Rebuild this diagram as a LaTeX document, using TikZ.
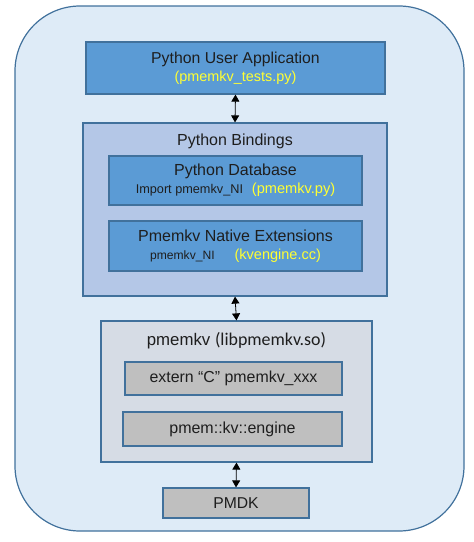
\documentclass[tikz,border=0pt]{standalone}
\usepackage{fontspec}
\setmainfont{Liberation Sans}
\newfontfamily\calibri{Carlito}
\usetikzlibrary{arrows.meta,positioning}

\definecolor{outerfill}{HTML}{DEEBF7}
\definecolor{edgeblue}{HTML}{41719C}
\definecolor{appblue}{HTML}{5B9BD5}
\definecolor{bindblue}{HTML}{B4C7E7}
\definecolor{libgray}{HTML}{D6DCE5}
\definecolor{boxgray}{HTML}{BFBFBF}
\definecolor{txt}{HTML}{1E1E1E}
\definecolor{fileyellow}{HTML}{FFFF33}

\tikzset{
    layer/.style={draw=edgeblue, line width=1.2pt, text=txt, align=center, inner sep=0pt},
    bluebox/.style={layer, fill=appblue},
    graybox/.style={layer, fill=boxgray},
    link/.style={<->, >={Triangle[width=8pt,length=7pt]}, line width=0.8pt, black},
    file/.style={text=fileyellow}
}

\begin{document}
\begin{tikzpicture}[x=1pt,y=-1pt]
\useasboundingbox (0,0) rectangle (474,542);
% Outer frame
\draw[draw=edgeblue, fill=outerfill, line width=1.2pt, rounded corners=65pt] (15,6) rectangle (464,531);
% Python layers
\node[bluebox, minimum width=299pt, minimum height=52pt, font=\fontsize{15.8}{18}\selectfont] (App) at (235.5,68)
    {Python User Application\\{\fontsize{14.4}{18}\selectfont\color{fileyellow}(pmemkv\_tests.py)}};
\node[layer, fill=bindblue, minimum width=304pt, minimum height=173pt] (Bind) at (235,209.5){};
\node[below=8pt of Bind.north, text=txt, font=\fontsize{16}{18}\selectfont] (BindTitle){Python Bindings};
\node[bluebox, minimum width=253pt, minimum height=49pt, font=\fontsize{16}{18}\selectfont] (DB) at (235.5,180.5)
    {Python Database\\{\fontsize{12.7}{18}\selectfont Import pmemkv\_NI}\ \ {\fontsize{14.6}{18}\selectfont\color{fileyellow}(pmemkv.py)}};
\node[bluebox, minimum width=253pt, minimum height=50pt, font=\fontsize{16}{18}\selectfont] (Ext) at (235.5,246)
    {Pmemkv Native Extensions\\{\fontsize{12.1}{18}\selectfont pmemkv\_NI}\hspace{20pt}{\fontsize{14.5}{18}\selectfont\color{fileyellow}(kvengine.cc)}};
% Native library
\node[layer, fill=libgray, minimum width=271pt, minimum height=141pt] (Lib) at (236.5,391.5){};
\node[below=8pt of Lib.north, text=txt, font=\fontsize{16.8}{18}\selectfont] (LibTitle){pmemkv {\calibri\fontsize{17.9}{18}\selectfont(libpmemkv.so)}};
\node[graybox, minimum width=217pt, minimum height=33pt, font=\fontsize{15.9}{18}\selectfont] (CApi) at (233.5,378.5){extern “C” pmemkv\_xxx};
\node[graybox, minimum width=219pt, minimum height=34pt, font=\fontsize{16}{18}\selectfont] (Engine) at (232.5,429){pmem::kv::engine};
\node[graybox, minimum width=146pt, minimum height=30pt, font=\fontsize{15.7}{18}\selectfont] (PMDK) at (236,503){PMDK};
% Connection
\draw[link] (App.south) -- (Bind.north);
\draw[link] (Bind.south) -- (Lib.north);
\draw[link] (Lib.south) -- (PMDK.north);
\end{tikzpicture}
\end{document}
